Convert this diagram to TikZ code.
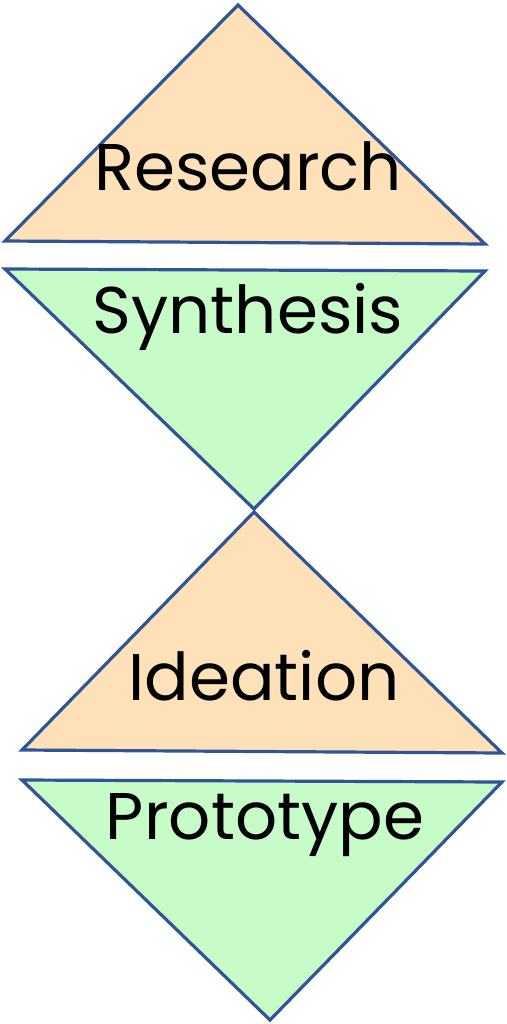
\documentclass[tikz,border=0pt]{standalone}
\usepackage{fontspec}
\setmainfont{Poppins}
\definecolor{peach}{HTML}{FFE1B9}
\definecolor{mint}{HTML}{C7FBC7}
\definecolor{edge}{HTML}{2F5597}
\tikzset{
	phase/.style={draw=edge, line width=1.6pt, line join=miter},
	label/.style={anchor=base, font=\fontsize{33}{38}\selectfont, inner sep=0pt}
}
\begin{document}
\begin{tikzpicture}[x=0.5pt, y=-0.5pt]
\useasboundingbox (0,0) rectangle (507,1024);
% triangles: apex / left / right / fill
\foreach \ax/\ay/\lx/\ly/\rx/\ry/\c in {238/5/5/241/485/244/peach, 254/509/5/269/485/271/mint, 254/512/22/750/502/753/peach, 270/1020/22/780/502/782/mint}
{
	\draw[phase, fill=\c] (\ax,\ay) -- (\lx,\ly) -- (\rx,\ry) -- cycle;
}
\node[label] (research) at (248,190) {Research};
\node[label] (synthesis) at (248,333) {Synthesis};
\node[label] (ideation) at (264,700) {Ideation};
\node[label] (prototype) at (265,839) {Prototype};
\end{tikzpicture}
\end{document}
